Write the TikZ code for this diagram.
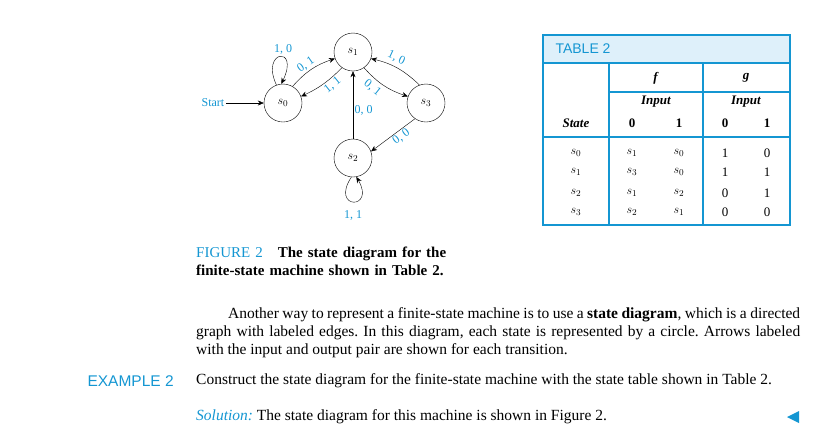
\documentclass[tikz,border=0pt]{standalone}
\usepackage{fontspec}
\setmainfont{Liberation Serif}
\newfontfamily\hsans{Liberation Sans}
\usetikzlibrary{arrows.meta}
\definecolor{cblue}{RGB}{20,150,210}
\definecolor{hdr}{RGB}{222,240,250}
\frenchspacing
\tikzset{st/.style={circle,draw,minimum size=38pt,inner sep=0pt,font=\fontsize{13}{13}\selectfont},
 lab/.style={text=cblue,font=\fontsize{12}{12}\selectfont,inner sep=1.5pt},
 ed/.style={-{Stealth[length=6pt,width=5pt]},thin},
 tb/.style={draw=cblue,line width=1.4pt},
 cell/.style={font=\fontsize{13}{13}\selectfont,inner sep=0pt},
 body/.style={font=\fontsize{15.5}{18}\selectfont,inner sep=0pt,anchor=north west}}
\begin{document}
\begin{tikzpicture}[x=1pt,y=-1pt]
\useasboundingbox (0,0) rectangle (820,440);
% diagram
\node[st] (s0) at (283,103) {$s_0$};
\node[st] (s1) at (353,52) {$s_1$};
\node[st] (s3) at (426,103) {$s_3$};
\node[st] (s2) at (353,158) {$s_2$};
\node[lab,anchor=east] (start) at (226,103) {Start};
\draw[ed] (start) -- (s0);
\draw[ed] (s0.60) to[bend left=15] node[lab,sloped,above,pos=0.45] {0, 1} (s1.200);
\draw[ed] (s1.235) to[bend left=10] node[lab,sloped,below,pos=0.35] {1, 1} (s0.20);
\draw[ed] (s1.305) to[bend right=15] node[lab,sloped,below,pos=0.35,yshift=-2pt] {0, 1} (s3.160);
\draw[ed] (s3.110) to[bend right=15] node[lab,sloped,above,pos=0.6,yshift=2pt] {1, 0} (s1.340);
\draw[ed] (s2) -- node[lab,right,pos=0.42] {0, 0} (s1);
\draw[ed] (s3.235) -- node[lab,sloped,below,pos=0.4] {0, 0} (s2.20);
\draw[ed] (s0.110) .. controls (260,50) and (300,45) .. (s0.95);
\node[lab] (l10) at (283,49) {1, 0};
\draw[ed] (s2.265) .. controls (330,210) and (376,210) .. (s2.280);
\node[lab] (l11) at (353,215) {1, 1};
% table
\fill[hdr] (543,35) rectangle (790,63);
\draw[tb] (543,35) rectangle (790,225);
\draw[tb] (543,63) -- (790,63);
\draw[tb] (609,63) -- (609,225);
\draw[tb] (703,63) -- (703,225);
\draw[tb] (609,92) -- (790,92);
\draw[tb] (543,137) -- (790,137);
\node[anchor=west,text=cblue,font=\hsans\fontsize{14}{14}\selectfont] (t2) at (552,49) {TABLE 2};
\node[cell] (f) at (656,78) {\textbf{\textit{f}}};
\node[cell] (g) at (746,78) {\textbf{\textit{g}}};
\node[cell] (i1) at (656,102) {\textbf{\textit{Input}}};
\node[cell] (i2) at (746,102) {\textbf{\textit{Input}}};
\node[cell] (sh) at (576,123) {\textbf{\textit{State}}};
\node[cell] (h1) at (632,123) {\textbf{0}};
\node[cell] (h2) at (679,123) {\textbf{1}};
\node[cell] (h3) at (725,123) {\textbf{0}};
\node[cell] (h4) at (767,123) {\textbf{1}};
\foreach \r/\y/\a/\b/\c/\d in {0/153/1/0/1/0,1/172/3/0/1/1,2/193/1/2/0/1,3/212/2/1/0/0}{
 \node[cell] at (576,\y) {$s_\r$};
 \node[cell] at (632,\y) {$s_\a$};
 \node[cell] at (679,\y) {$s_\b$};
 \node[cell] at (725,\y) {\c};
 \node[cell] at (767,\y) {\d};
}
% caption
\node[body,text width=330pt,font=\fontsize{15}{18}\selectfont] (cap) at (196,247) {\textcolor{cblue}{FIGURE 2}\quad\textbf{The state diagram for the\\finite-state machine shown in Table 2.}};
\node[body,text width=604pt,align=justify] (para) at (196,307) {\hspace*{32pt}Another way to represent a finite-state machine is to use a \textbf{state diagram}, which is a directed\linebreak graph with labeled edges. In this diagram, each state is represented by a circle. Arrows labeled\linebreak with the input and output pair are shown for each transition.};
\node[anchor=west,text=cblue,font=\hsans\fontsize{15.5}{15.5}\selectfont] (ex) at (84,381) {EXAMPLE 2};
\node[anchor=west,inner sep=0pt,font=\fontsize{15.5}{15.5}\selectfont] (exl) at (196,381) {Construct the state diagram for the finite-state machine with the state table shown in Table 2.};
\node[anchor=west,inner sep=0pt,font=\fontsize{15.5}{15.5}\selectfont] (sol) at (196,417) {\textcolor{cblue}{\textit{Solution:}} The state diagram for this machine is shown in Figure 2.};
\fill[cblue] (787,417) -- (799,411) -- (799,423) -- cycle;
\end{tikzpicture}
\end{document}
